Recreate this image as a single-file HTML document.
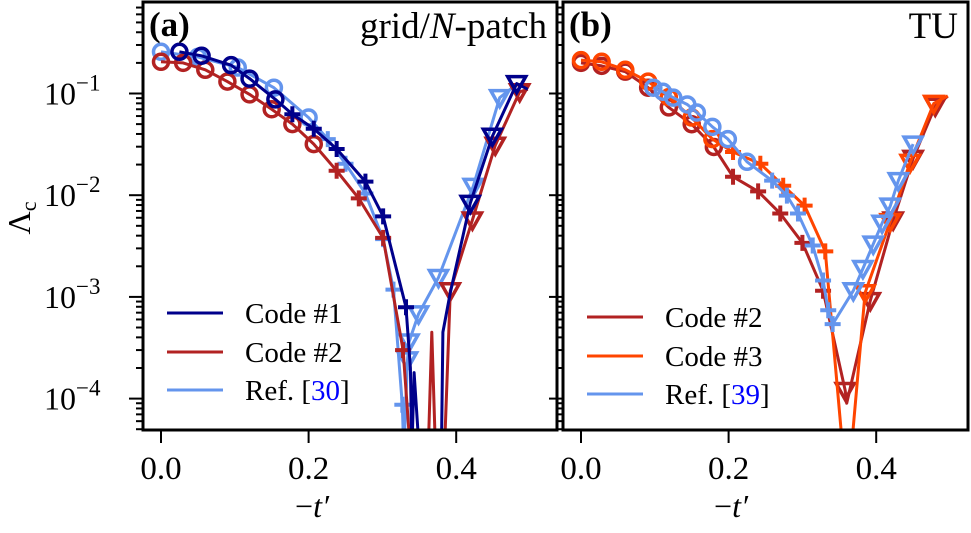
<!DOCTYPE html>
<html><head><meta charset="utf-8">
<style>
html,body{margin:0;padding:0;background:#fff;}
svg text{font-family:"Liberation Serif","DejaVu Serif",serif;}
</style></head>
<body>
<svg id="chart" width="971" height="528" viewBox="0 0 971 528" xmlns="http://www.w3.org/2000/svg">
<defs>
<clipPath id="clipA"><rect x="143" y="2" width="414" height="428"/></clipPath>
<clipPath id="clipB"><rect x="563" y="2" width="405" height="428"/></clipPath>
</defs>
<g id="panelA"></g>
<g id="panelB"></g>
<text x="30" y="218" font-size="32" text-anchor="middle" transform="rotate(-90 30 218)">Λ<tspan font-size="22" dy="6">c</tspan></text>
<text x="312" y="517" font-size="32" text-anchor="middle" font-style="italic"><tspan font-style="normal">−</tspan>t′</text>
<text x="731" y="517" font-size="32" text-anchor="middle" font-style="italic"><tspan font-style="normal">−</tspan>t′</text>
</svg>
<script>
// ---- data ----
const xTicks = [0.0, 0.2, 0.4];
const xTickLabels = ["0.0", "0.2", "0.4"];
const yTicks = [1e-1, 1e-2, 1e-3, 1e-4];
const yTickExps = ["−1", "−2", "−3", "−4"];

// panel a
const a1X = [0.025,0.055,0.095,0.12,0.155,0.178,0.207,0.238,0.277,0.301,0.332,0.338,0.340,0.343,0.350,0.380,0.382,0.392,0.419,0.449,0.482,0.497];
const a1Y = [0.257,0.235,0.19,0.14,0.0875,0.0625,0.045,0.0285,0.0136,0.0062,0.00079,0.0002,0.00003,0.00018,0.00003,0.00003,0.00045,0.0011,0.0083,0.038,0.125,0.11];
const a1M = ["o","o","o","o","o","+","+","+","+","+","+","","","","","","","","v","v","v",""];
const a2X = [0.0,0.03,0.06,0.09,0.12,0.15,0.178,0.207,0.238,0.268,0.301,0.328,0.338,0.362,0.367,0.372,0.384,0.392,0.422,0.453,0.486,0.497];
const a2Y = [0.205,0.2,0.171,0.131,0.098,0.07,0.05,0.0318,0.0174,0.0093,0.0038,0.0003,0.00003,0.00003,0.00045,0.00003,0.00003,0.00115,0.0057,0.031,0.104,0.11];
const a2M = ["o","o","o","o","o","o","o","o","+","+","+","+","","","","","","v","v","v","v",""];
const a3X = [0.0,0.05,0.104,0.153,0.2,0.226,0.25,0.277,0.301,0.315,0.327,0.329,0.334,0.336,0.349,0.376,0.423,0.459,0.48];
const a3Y = [0.257,0.229,0.18,0.114,0.058,0.0356,0.0204,0.0104,0.0037,0.00118,0.000087,0.00003,0.00024,0.00036,0.00068,0.00155,0.0122,0.091,0.12];
const a3M = ["o","o","o","o","o","+","+","+","+","+","+","","v","v","v","v","v","v",""];

// panel b
const b2X = [0.0,0.028,0.06,0.091,0.119,0.15,0.18,0.206,0.24,0.27,0.3,0.328,0.358,0.36,0.392,0.423,0.45,0.48,0.497];
const b2Y = [0.2,0.187,0.164,0.114,0.073,0.0499,0.0298,0.0152,0.0109,0.0066,0.0034,0.00115,0.00012,0.00009,0.00092,0.0057,0.023,0.075,0.094];
const b2M = ["o","o","o","o","o","o","o","+","+","+","+","+","v","","v","v","v","v",""];
const b3X = [0.0,0.028,0.06,0.091,0.119,0.15,0.178,0.206,0.243,0.274,0.303,0.331,0.355,0.366,0.385,0.419,0.446,0.478,0.497];
const b3Y = [0.213,0.205,0.171,0.131,0.092,0.058,0.0356,0.0266,0.0204,0.0124,0.0079,0.0028,0.00003,0.00003,0.0011,0.0055,0.021,0.08,0.095];
const b3M = ["o","o","o","o","o","o","o","+","+","+","+","+","","","v","v","v","v",""];
const bRX = [0.098,0.111,0.125,0.144,0.157,0.178,0.199,0.225,0.259,0.279,0.294,0.314,0.328,0.335,0.341,0.369,0.382,0.396,0.408,0.419,0.43,0.45];
const bRY = [0.114,0.104,0.091,0.078,0.065,0.047,0.0356,0.0213,0.0139,0.0099,0.0066,0.0032,0.00145,0.00074,0.00054,0.00115,0.0019,0.0033,0.0053,0.0078,0.0139,0.0318];
const bRM = ["o","o","o","o","o","o","o","o","+","+","+","+","+","+","+","v","v","v","v","v","v","v"];

// ---- axes ----
const Y0 = 93.5, DEC = 101.7;
function yScale(v){ return Y0 - DEC*(Math.log10(v)+1); }
function xScaleA(v){ return 161 + 738*v; }
function xScaleB(v){ return 581 + 738*v; }

const NS = "http://www.w3.org/2000/svg";
function mk(tag, attrs, parent){
  const e = document.createElementNS(NS, tag);
  for (const k in attrs) e.setAttribute(k, attrs[k]);
  parent.appendChild(e);
  return e;
}

function drawMarker(g, m, x, y, color){
  let e;
  if (m === "o"){
    e = mk("circle", {cx:x, cy:y, r:7.5, fill:"none", stroke:color, "stroke-width":3.5}, g);
    
    
  } else if (m === "+"){
    e = mk("path", {d:`M${x-8},${y}H${x+8}M${x},${y-8}V${y+8}`, stroke:color, "stroke-width":4, fill:"none"}, g);
    
    
  } else if (m === "v"){
    e = mk("path", {d:`M${x-9},${y-7}L${x+9},${y-7}L${x},${y+9}Z`, stroke:color, "stroke-width":3.5, fill:"none", "stroke-linejoin":"miter"}, g);
    
    
  }
}

function drawSeries(g, xs, ys, ms, color, xScale, name){
  const sg = mk("g", {}, g);
  
  
  const pts = xs.map((x,i)=>xScale(x).toFixed(1)+","+yScale(ys[i]).toFixed(1)).join(" ");
  const pl = mk("polyline", {points:pts, fill:"none", stroke:color, "stroke-width":3, "stroke-linejoin":"round"}, sg);
  
  
  xs.forEach((x,i)=>{ if (ms[i]) drawMarker(sg, ms[i], xScale(x), yScale(ys[i]), color); });
}

function drawPanel(g, left, right, xScale, clipId, series, tag, title, legend){
  const top = 2, bottom = 430;
  const plot = mk("g", {"clip-path":`url(#${clipId})`}, g);
  
  
  series.forEach(s=>drawSeries(plot, s[0], s[1], s[2], s[3], xScale, s[4]));
  const yt = mk("g", {stroke:"#000", "stroke-width":2}, g);
  
  
  for (let e = -5; e <= 0; e++){
    for (let k = 1; k <= 9; k++){
      const v = k*Math.pow(10,e);
      const y = yScale(v);
      if (y < top || y > bottom) continue;
      const len = k===1 ? 14 : 7;
      mk("line", {x1:left-len, x2:left, y1:y, y2:y}, yt);
    }
  }
  xTicks.forEach((v,i)=>{
    const x = xScale(v);
    const t = mk("line", {x1:x, x2:x, y1:bottom, y2:bottom+13, stroke:"#000", "stroke-width":2}, g);
    
    
    const l = mk("text", {x:x, y:479, "font-size":33, "text-anchor":"middle"}, g);
    l.textContent = xTickLabels[i];
    
    
  });
  const fr = mk("rect", {x:left, y:top, width:right-left, height:bottom-top, fill:"none", stroke:"#000", "stroke-width":3}, g);
  
  
  const tg = mk("text", {x:left+6, y:36, "font-size":35, "font-weight":"bold"}, g);
  tg.textContent = tag;
  
  
  const tt = mk("text", {x:right-10, y:38, "font-size":37, "text-anchor":"end"}, g);
  tt.innerHTML = title;
  
  
  const lg = mk("g", {}, g);
  
  
  legend.forEach((L,i)=>{
    const y = L[3];
    const ln = mk("line", {x1:left+24, x2:left+80, y1:y, y2:y, stroke:L[0], "stroke-width":3}, lg);
    
    
    const tx = mk("text", {x:left+102, y:y+10, "font-size":29}, lg);
    tx.innerHTML = L[1];
    
    
  });
}

const gA = document.getElementById("panelA");
const gB = document.getElementById("panelB");
drawPanel(gA, 143, 557, xScaleA, "clipA", [
  [a3X,a3Y,a3M,"#6495ed","series-ref30"],
  [a2X,a2Y,a2M,"#b22222","series-code2"],
  [a1X,a1Y,a1M,"#00008b","series-code1"]
], "(a)", 'grid/<tspan font-style="italic">N</tspan>-patch',
[["#00008b","Code #1","legend-code1",313],["#b22222","Code #2","legend-code2",352],["#6495ed",'Ref. [<tspan fill="#0000ff">30</tspan>]',"legend-ref30",390]]);

drawPanel(gB, 563, 968, xScaleB, "clipB", [
  [b2X,b2Y,b2M,"#b22222","series-code2"],
  [b3X,b3Y,b3M,"#ff4500","series-code3"],
  [bRX,bRY,bRM,"#6495ed","series-ref39"]
], "(b)", 'TU',
[["#b22222","Code #2","legend-code2",317],["#ff4500","Code #3","legend-code3",356],["#6495ed",'Ref. [<tspan fill="#0000ff">39</tspan>]',"legend-ref39",394]]);

yTicks.forEach((v,i)=>{
  const y = yScale(v);
  const t = mk("text", {x:44, y:y+11, "font-size":32}, document.getElementById("chart"));
  t.innerHTML = '10<tspan font-size="23" dy="-14">' + yTickExps[i] + '</tspan>';
  
  
});
</script>
</body></html>
